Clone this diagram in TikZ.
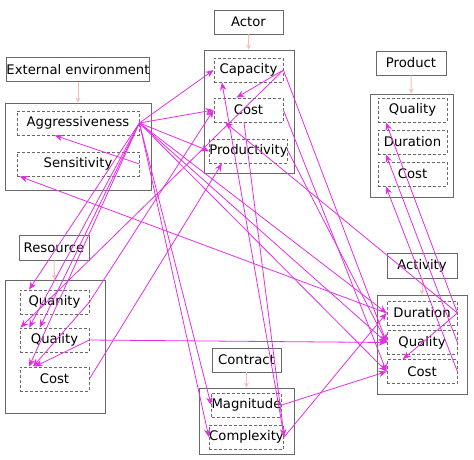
\documentclass[tikz,border=0pt]{standalone}
\usepackage{fontspec}
\setmainfont{DejaVu Sans}
\usepackage{tikz}
\usetikzlibrary{arrows.meta}
\definecolor{linkmag}{RGB}{230,45,230}
\definecolor{boxgray}{RGB}{105,105,105}
\definecolor{kindpink}{RGB}{248,190,190}

\begin{document}
\begin{tikzpicture}[x=1pt,y=-1pt,
  font=\fontsize{13.2}{15}\selectfont,
  kind/.style={draw=boxgray,line width=0.9pt,minimum height=24pt,inner sep=0pt},
  group/.style={draw=boxgray,line width=0.9pt,inner sep=0pt},
  attr/.style={draw=boxgray,dash pattern=on 3pt off 2pt,line width=0.8pt,minimum width=69pt,minimum height=24pt,inner sep=0pt},
  link/.style={linkmag,line width=0.8pt,-{Stealth[length=8pt,width=6.5pt]}},
  kindarrow/.style={kindpink,line width=1pt,-{Stealth[length=5pt,width=5pt]}}]
\useasboundingbox (0,0) rectangle (474,459);

% kind labels
\node[kind,minimum width=140pt] (extlbl) at (78,69.5) {External environment};
\node[kind,minimum width=69pt] (actlbl) at (248.5,22) {Actor};
\node[kind,minimum width=70pt] (prodlbl) at (411,63) {Product};
\node[kind,minimum width=70pt,minimum height=25pt] (reslbl) at (54,247.5) {Resource};
\node[kind,minimum width=69pt] (conlbl) at (246.5,360) {Contract};
\node[kind,minimum width=70pt,minimum height=25pt] (actvlbl) at (422,265.5) {Activity};

% group boxes
\node[group,minimum width=146pt,minimum height=87pt] (extbox) at (78,146.5) {};
\node[group,minimum width=90pt,minimum height=123pt] (actbox) at (249,111.5) {};
\node[group,minimum width=83pt,minimum height=103pt] (prodbox) at (411.5,145.5) {};
\node[group,minimum width=100pt,minimum height=133pt] (resbox) at (55,346.5) {};
\node[group,minimum width=95pt,minimum height=66pt] (conbox) at (246.5,421) {};
\node[group,minimum width=90pt,minimum height=99pt] (actvbox) at (422,344.5) {};

\draw[kindarrow] (extlbl) -- (extbox);
\draw[kindarrow] (actlbl) -- (actbox);
\draw[kindarrow] (prodlbl) -- (prodbox);
\draw[kindarrow] (reslbl) -- (resbox);
\draw[kindarrow] (conlbl) -- (conbox);
\draw[kindarrow] (actvlbl) -- (actvbox);

% attributes
\node[attr,minimum width=122pt] (aggr) at (78,123) {Aggressiveness};
\node[attr,minimum width=122pt] (sens) at (78,164) {Sensitivity};
\node[attr] (cap) at (248.5,70) {Capacity};
\node[attr] (acost) at (248.5,110) {Cost};
\node[attr] (prod) at (248.5,151) {Productivity};
\node[attr] (pqual) at (412.5,110) {Quality};
\node[attr] (pdur) at (412.5,142) {Duration};
\node[attr] (pcost) at (412.5,174) {Cost};
\node[attr] (rquan) at (54.5,302) {Quanity};
\node[attr] (rqual) at (54.5,340) {Quality};
\node[attr] (rcost) at (54.5,379) {Cost};
\node[attr] (mag) at (246.5,405) {Magnitude};
\node[attr] (cplx) at (246.5,437) {Complexity};
\node[attr,minimum width=70pt] (adur) at (422,313) {Duration};
\node[attr,minimum width=70pt] (aqual) at (422,342.5) {Quality};
\node[attr,minimum width=70pt] (acst) at (422,371.5) {Cost};

% influences
\foreach \t in {cap.west,acost.west,prod.west,rquan.154,rqual.154,rqual.140,rcost.154,mag.west,cplx.west,adur.west,aqual.west,acst.west}
  \draw[link] (aggr.east) -- (\t);
\draw[link] (sens.east) -- (aggr.208);
\draw[link] (adur.west) -- (sens.192);
\draw[link] (cap.east) -- (acost.134);
\draw[link] (cap.east) -- (rqual.160);
\draw[link] (cap.east) -- (aqual.west);
\draw[link] (acost.east) -- (acst.west);
\draw[link] (prod.east) -- (aqual.west);
\draw[link] (acost.250) -- (cplx.east);
\draw[link] (cplx.east) -- (cap.205);
\draw[link] (cplx.east) -- (adur.west);
\draw[link] (mag.east) -- (acst.west);
\draw[link] (rquan.east) -- (acost.west);
\draw[link] (rquan.east) -- (rcost.150);
\draw[link] (rqual.east) -- (rcost.148);
\draw[link] (rqual.east) -- (aqual.west);
\draw[link] (rcost.east) -- (prod.205);
\draw[link] (adur.east) -- (acost.208);
\draw[link] (adur.east) -- (acst.147);
\draw[link] (adur.east) -- (pqual.205);
\draw[link] (aqual.east) -- (pdur.205);
\draw[link] (acst.east) -- (pcost.205);
\end{tikzpicture}
\end{document}
